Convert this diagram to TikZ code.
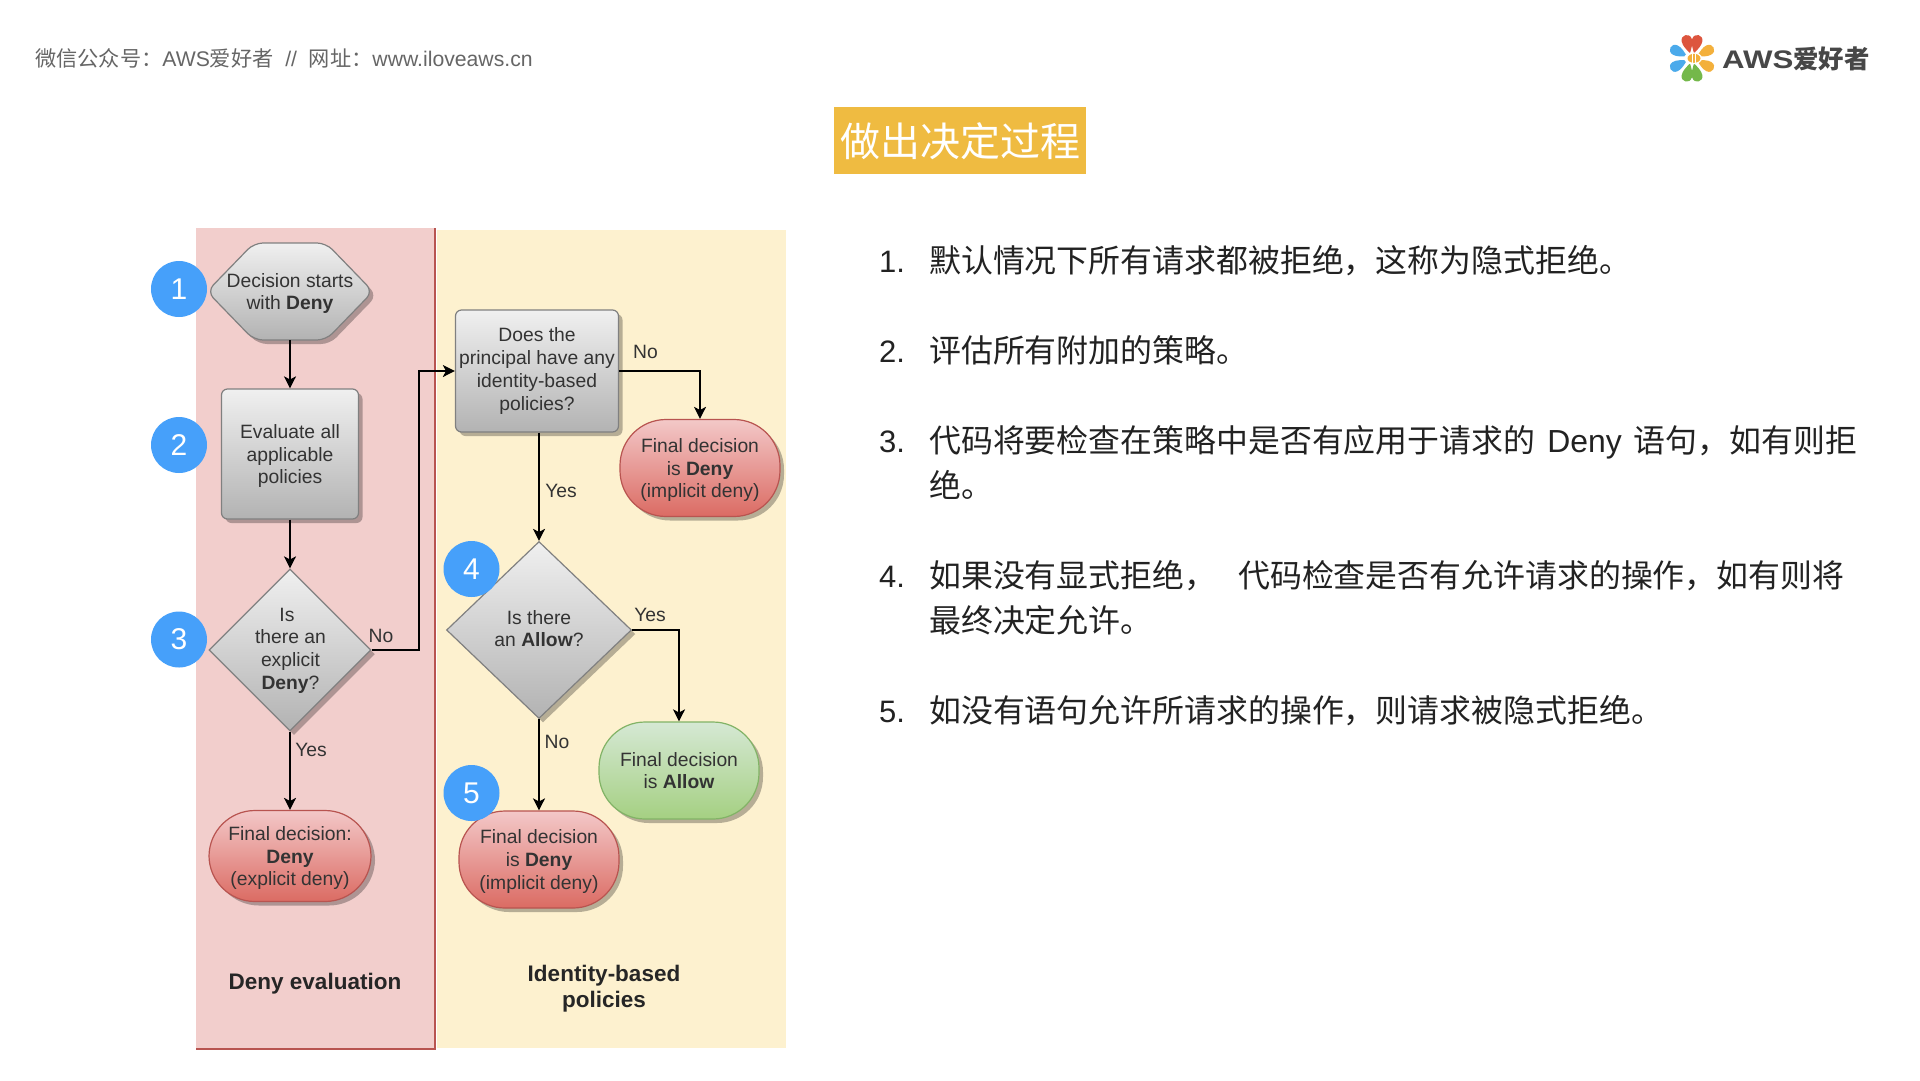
\documentclass[tikz,border=0pt]{standalone}
\usepackage{fontspec}
\setmainfont{Liberation Sans}
\newfontfamily\cjk{Noto Sans CJK SC}
\usetikzlibrary{shapes.geometric,shadows,arrows.meta}
\definecolor{pinklane}{HTML}{F2CECC}
\definecolor{yellowlane}{HTML}{FDF1CF}
\definecolor{lanered}{HTML}{B85450}
\definecolor{badge}{HTML}{46A0FA}
\definecolor{titlebg}{HTML}{EFBB41}
\definecolor{flowtext}{HTML}{333333}
\definecolor{bodytext}{HTML}{222222}
\definecolor{redtop}{HTML}{F3C8C8}
\definecolor{redbot}{HTML}{DB6B63}
\definecolor{greentop}{HTML}{D5E8D4}
\definecolor{greenbot}{HTML}{A5D082}
\definecolor{greenline}{HTML}{82B366}
\definecolor{petalred}{HTML}{DD553E}
\definecolor{petalyellow}{HTML}{F3B03C}
\definecolor{petalgreen}{HTML}{74B84A}
\definecolor{petalblue}{HTML}{4BAAEB}
\newcommand{\flowfont}{\fontsize{19.3}{22.7}\selectfont}
\newcommand{\lowerhead}{\mbox{}\\[-4.7pt]}
\tikzset{
  x=1pt,y=-1pt,
  softshadow/.style={drop shadow={shadow xshift=4pt,shadow yshift=-4pt,opacity=.28,fill=black}},
  greybox/.style={draw=black!50,line width=1.2pt,top color=black!6,bottom color=black!30,softshadow},
  redbox/.style={draw=lanered,line width=1.2pt,rounded corners=46pt,top color=redtop,bottom color=redbot,softshadow,minimum width=160pt,minimum height=97pt,text=flowtext,font=\flowfont,align=center,inner sep=0pt},
  greenbox/.style={draw=greenline,line width=1.2pt,rounded corners=46pt,top color=greentop,bottom color=greenbot,softshadow,minimum width=160pt,minimum height=97pt,text=flowtext,font=\flowfont,align=center,inner sep=0pt},
  procbox/.style={greybox,rounded corners=6pt,text=flowtext,font=\flowfont,align=center,inner sep=0pt},
  decision/.style={greybox,diamond,inner sep=0pt},
  flowlabel/.style={text=flowtext,font=\flowfont,align=center,inner sep=0pt},
  edgelabel/.style={text=flowtext,font=\flowfont,inner sep=0pt},
  flow/.style={line width=1.5pt,-{Stealth[length=12pt,width=12pt,inset=3pt]}},
  numbadge/.style={circle,fill=badge,text=white,minimum size=56pt,inner sep=0pt,font=\fontsize{30}{32}\selectfont},
  lanetitle/.style={text=black!85,font=\fontsize{22.5}{26}\selectfont\bfseries,align=center,inner sep=0pt},
  stepnum/.style={anchor=base west,text=bodytext,font=\fontsize{31}{36}\selectfont,inner sep=0pt},
  steptext/.style={anchor=base west,text=bodytext,font=\fontsize{31.9}{36}\selectfont\cjk,inner sep=0pt},
}
\newcommand{\drawpetal}[4]{\fill[#1,shift={(#2,#3)},rotate=#4] (0,0) .. controls (-2.5,-4.5) and (-5.5,-9) .. (-5.2,-13.5) .. controls (-4.8,-20.5) and (4.8,-20.5) .. (5.2,-13.5) .. controls (5.5,-9) and (2.5,-4.5) .. (0,0) -- cycle;}
\begin{document}
\begin{tikzpicture}
\useasboundingbox (0,0) rectangle (1920,1080);
\fill[white] (0,0) rectangle (1920,1080);
% header
\node[anchor=west,text=black!60,font=\fontsize{21.2}{24}\selectfont,inner sep=0pt] (header) at (35,58.5) {{\cjk 微信公众号：}AWS{\cjk 爱好者}\ \ //\ \ {\cjk 网址：}www.iloveaws.cn};
% logo
\begin{scope}[shift={(1692,58.3)}]
\drawpetal{petalred}{-2}{-5}{14}
\drawpetal{petalred}{2}{-5}{-14}
\drawpetal{petalyellow}{5}{-2}{-62}
\drawpetal{petalyellow}{5}{2}{-118}
\drawpetal{petalgreen}{-2}{5}{166}
\drawpetal{petalgreen}{2}{5}{-166}
\drawpetal{petalblue}{-5}{-2}{62}
\drawpetal{petalblue}{-5}{2}{118}
\fill[white] (1,0) ellipse (9 and 6);
\fill[petalyellow] (2,0) ellipse (6.5 and 4.5);
\draw[white,line width=.9pt] (0,-4.5) -- (0,4.5) (3,-4.5) -- (3,4.5);
\end{scope}
\node[anchor=west,text=black!72,font=\fontsize{25.4}{28}\selectfont\bfseries,inner sep=0pt] (logotext) at (1722,59) {\scalebox{1.23}[1]{AWS}{\cjk\bfseries 爱好者}};
% title
\node[fill=titlebg,text=white,minimum width=252pt,minimum height=67pt,inner sep=0pt,text height=36pt,text depth=3.2pt,font=\fontsize{40}{44}\selectfont\cjk] (title) at (960,140.5) {做出决定过程};
% lanes
\fill[pinklane] (196,228) rectangle (435,1049);
\draw[lanered,line width=1.3pt] (435,228) -- (435,1049) -- (196,1049);
\fill[yellowlane] (437,230) rectangle (786,1048);
% nodes
\path[greybox,rounded corners=9pt] (207,291.5) -- (254,243) -- (326,243) -- (373,291.5) -- (326,340) -- (254,340) -- cycle;
\node[flowlabel,minimum width=162pt,minimum height=97pt] (hex) at (290,291.5) {\lowerhead Decision starts\\with \textbf{Deny}};
\node[procbox,minimum width=137pt,minimum height=130pt] (evalbox) at (290,454) {\lowerhead Evaluate all\\applicable\\policies};
\node[decision,minimum width=162pt,minimum height=162pt] (d3) at (290,650) {};
\node[flowlabel] (d3text) at (290.5,650.5) {Is\hspace*{7pt}\\there an\\explicit\\\textbf{Deny}?};
\node[redbox,minimum width=162pt,minimum height=91pt] (denyexp) at (290,856) {\lowerhead Final decision:\\\textbf{Deny}\\(explicit deny)};
\node[procbox,minimum width=163pt,minimum height=122pt] (idbox) at (537,371) {Does the\\principal have any\\identity-based\\policies?};
\node[redbox] (denyimp1) at (700,468) {\lowerhead Final decision\\is \textbf{Deny}\\(implicit deny)};
\node[decision,minimum width=185pt,minimum height=177pt] (d4) at (539,630) {};
\node[flowlabel] (d4text) at (539,628.5) {Is there\\an \textbf{Allow}?};
\node[greenbox] (allow) at (679,770.5) {Final decision\\is \textbf{Allow}};
\node[redbox] (denyimp2) at (539,859.5) {\lowerhead Final decision\\is \textbf{Deny}\\(implicit deny)};
% connectors
\coordinate (bend) at (419,650);
\draw[flow] (hex.south) -- (evalbox.north);
\draw[flow] (evalbox.south) -- (d3.north);
\draw[flow] (d3.south) -- (denyexp.north);
\draw[flow] (d3.east) -- (bend) |- (idbox.west);
\draw[flow] (idbox.east) -| (denyimp1.north);
\draw[flow] (idbox.south -| d4.north) -- (d4.north);
\draw[flow] (d4.east) -| (allow.north);
\draw[flow] (d4.south) -- (denyimp2.north);
% edge labels
\node[edgelabel] (lno1) at (381,636) {No};
\node[edgelabel] (lyes1) at (311,750) {Yes};
\node[edgelabel] (lno2) at (645.5,352) {No};
\node[edgelabel] (lyes2) at (561,490.5) {Yes};
\node[edgelabel] (lyes3) at (650,615) {Yes};
\node[edgelabel] (lno3) at (557,741.5) {No};
% badges
\node[numbadge] (b1) at (179,289) {1};
\node[numbadge] (b2) at (179,445) {2};
\node[numbadge] (b3) at (179,639.5) {3};
\node[numbadge] (b4) at (471.5,569) {4};
\node[numbadge] (b5) at (471.5,793) {5};
% lane titles
\node[lanetitle] (t1) at (315,984) {Deny evaluation};
\node[lanetitle] (t2) at (604,988.5) {Identity-based\\policies};
% steps
\node[stepnum] (n1) at (879,272) {1.};
\node[steptext] (s1) at (929,272.5) {默认情况下所有请求都被拒绝，这称为隐式拒绝。};
\node[stepnum] (n2) at (879,362) {2.};
\node[steptext] (s2) at (929,362.5) {评估所有附加的策略。};
\node[stepnum] (n3) at (879,452) {3.};
\node[steptext] (s3) at (929,452.5) {代码将要检查在策略中是否有应用于请求的\hspace{12pt}{\fontspec{Liberation Sans}Deny}\hspace{12pt}语句，如有则拒};
\node[steptext] (s3b) at (929,497.5) {绝。};
\node[stepnum] (n4) at (879,587) {4.};
\node[steptext] (s4) at (929,587.5) {如果没有显式拒绝，\hspace{22pt}代码检查是否有允许请求的操作，如有则将};
\node[steptext] (s4b) at (929,632.5) {最终决定允许。};
\node[stepnum] (n5) at (879,722) {5.};
\node[steptext] (s5) at (929,722.5) {如没有语句允许所请求的操作，则请求被隐式拒绝。};
\end{tikzpicture}
\end{document}
